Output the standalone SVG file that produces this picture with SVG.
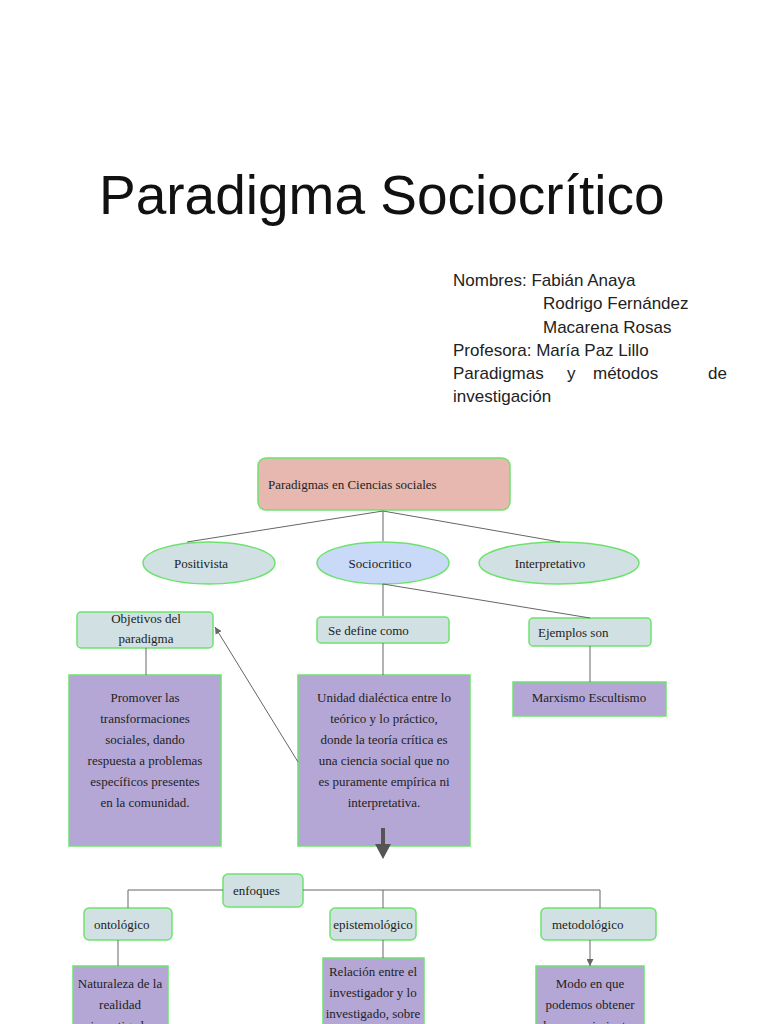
<svg xmlns="http://www.w3.org/2000/svg" width="768" height="1024" viewBox="0 0 768 1024">
<style>
.t{font-family:"Liberation Serif",serif;font-size:13px;fill:#222}
.n{stroke:#6ee26e;stroke-width:1.5}
.c{stroke:#666;stroke-width:1;fill:none}
.i{font-family:"Liberation Sans",sans-serif;font-size:17px;fill:#222}
</style>
<defs><marker id="a" viewBox="0 0 6 6" refX="6" refY="3" markerWidth="7" markerHeight="7" markerUnits="userSpaceOnUse" orient="auto"><path d="M0,0L6,3L0,6z" fill="#666"/></marker></defs>
<rect width="768" height="1024" fill="#fff"/>
<text x="99" y="214" font-family="Liberation Sans,sans-serif" font-size="55" fill="#111">Paradigma Sociocrítico</text>
<text class="i" x="453" y="286">Nombres: Fabián Anaya</text>
<text class="i" x="543" y="309">Rodrigo Fernández</text>
<text class="i" x="543" y="333">Macarena Rosas</text>
<text class="i" x="453" y="356">Profesora: María Paz Lillo</text>
<text class="i" y="379"><tspan x="453">Paradigmas</tspan><tspan x="567">y</tspan><tspan x="593">métodos</tspan><tspan x="708">de</tspan></text>
<text class="i" x="453" y="402">investigación</text>
<g id="top"><rect class="n" x="258" y="458" width="252" height="52" rx="8" fill="#e6b8af"/><text class="t" x="268" y="489">Paradigmas en Ciencias sociales</text></g>
<g id="positivista"><ellipse class="n" cx="209" cy="563" rx="66" ry="21" fill="#d0e0e3"/><text class="t" x="201" y="568" text-anchor="middle">Positivista</text></g>
<g id="sociocritico"><ellipse class="n" cx="383" cy="563" rx="66" ry="21" fill="#c9daf8"/><text class="t" x="380" y="568" text-anchor="middle">Sociocritico</text></g>
<g id="interpretativo"><ellipse class="n" cx="559" cy="563" rx="80" ry="21" fill="#d0e0e3"/><text class="t" x="550" y="568" text-anchor="middle">Interpretativo</text></g>
<g id="objetivos"><rect class="n" x="77" y="612" width="136" height="36" rx="4" fill="#d0e0e3"/><text class="t" x="146" y="623" text-anchor="middle">Objetivos del</text><text class="t" x="146" y="643" text-anchor="middle">paradigma</text></g>
<g id="define"><rect class="n" x="317" y="617" width="132" height="26" rx="4" fill="#d0e0e3"/><text class="t" x="328" y="635">Se define como</text></g>
<g id="ejemplos"><rect class="n" x="529" y="618" width="122" height="28" rx="4" fill="#d0e0e3"/><text class="t" x="538" y="637">Ejemplos son</text></g>
<g id="promover"><rect class="n" x="69" y="675" width="152" height="171" fill="#b4a7d6"/>
<text class="t" text-anchor="middle"><tspan x="145" y="702">Promover las</tspan><tspan x="145" y="723">transformaciones</tspan><tspan x="145" y="744">sociales, dando</tspan><tspan x="145" y="765">respuesta a problemas</tspan><tspan x="145" y="786">específicos presentes</tspan><tspan x="145" y="807">en la comunidad.</tspan></text></g>
<g id="unidad"><rect class="n" x="298" y="675" width="172" height="171" fill="#b4a7d6"/>
<text class="t" text-anchor="middle"><tspan x="384" y="702">Unidad dialéctica entre lo</tspan><tspan x="384" y="723">teórico y lo práctico,</tspan><tspan x="384" y="744">donde la teoría crítica es</tspan><tspan x="384" y="765">una ciencia social que no</tspan><tspan x="384" y="786">es puramente empírica ni</tspan><tspan x="384" y="807">interpretativa.</tspan></text></g>
<g id="marxismo"><rect class="n" x="513" y="682" width="153" height="34" fill="#b4a7d6"/><text class="t" x="589" y="702" text-anchor="middle">Marxismo Escultismo</text></g>
<g id="enfoques"><rect class="n" x="223" y="874" width="80" height="33" rx="5" fill="#d0e0e3"/><text class="t" x="233" y="895">enfoques</text></g>
<g id="ontologico"><rect class="n" x="84" y="908" width="88" height="32" rx="5" fill="#d0e0e3"/><text class="t" x="94" y="929">ontológico</text></g>
<g id="epistemologico"><rect class="n" x="330" y="908" width="86" height="32" rx="5" fill="#d0e0e3"/><text class="t" x="373" y="929" text-anchor="middle">epistemológico</text></g>
<g id="metodologico"><rect class="n" x="541" y="908" width="115" height="32" rx="5" fill="#d0e0e3"/><text class="t" x="552" y="929">metodológico</text></g>
<g id="naturaleza"><rect class="n" x="73" y="966" width="95" height="70" fill="#b4a7d6"/><text class="t" text-anchor="middle"><tspan x="120" y="988">Naturaleza de la</tspan><tspan x="120" y="1009">realidad</tspan><tspan x="120" y="1030">investigada</tspan></text></g>
<g id="relacion"><rect class="n" x="323" y="958" width="101" height="80" fill="#b4a7d6"/><text class="t" text-anchor="middle"><tspan x="373" y="976">Relación entre el</tspan><tspan x="373" y="997">investigador y lo</tspan><tspan x="373" y="1018">investigado, sobre</tspan></text></g>
<g id="modo"><rect class="n" x="536" y="966" width="108" height="70" fill="#b4a7d6"/><text class="t" text-anchor="middle"><tspan x="590" y="988">Modo en que</tspan><tspan x="590" y="1009">podemos obtener</tspan><tspan x="590" y="1030">los conocimientos</tspan></text></g>
<g id="connectors">
<path class="c" marker-end="url(#a)" d="M383,511L187,542M383,511L383,541M383,511L560,542M383,584L383,616M383,584L590,618M298,762L215,627"/>
<path class="c" d="M146,648V675M383,643V675M590,646V682M128,908V890H223M303,890H600V908M383,890V908"/>
<path class="c" marker-end="url(#a)" d="M118,940V966M383,940V958M590,940V966"/>
<path d="M381,828h4v16h6l-8,15l-8-15h6z" fill="#555"/>
</g>
</svg>
